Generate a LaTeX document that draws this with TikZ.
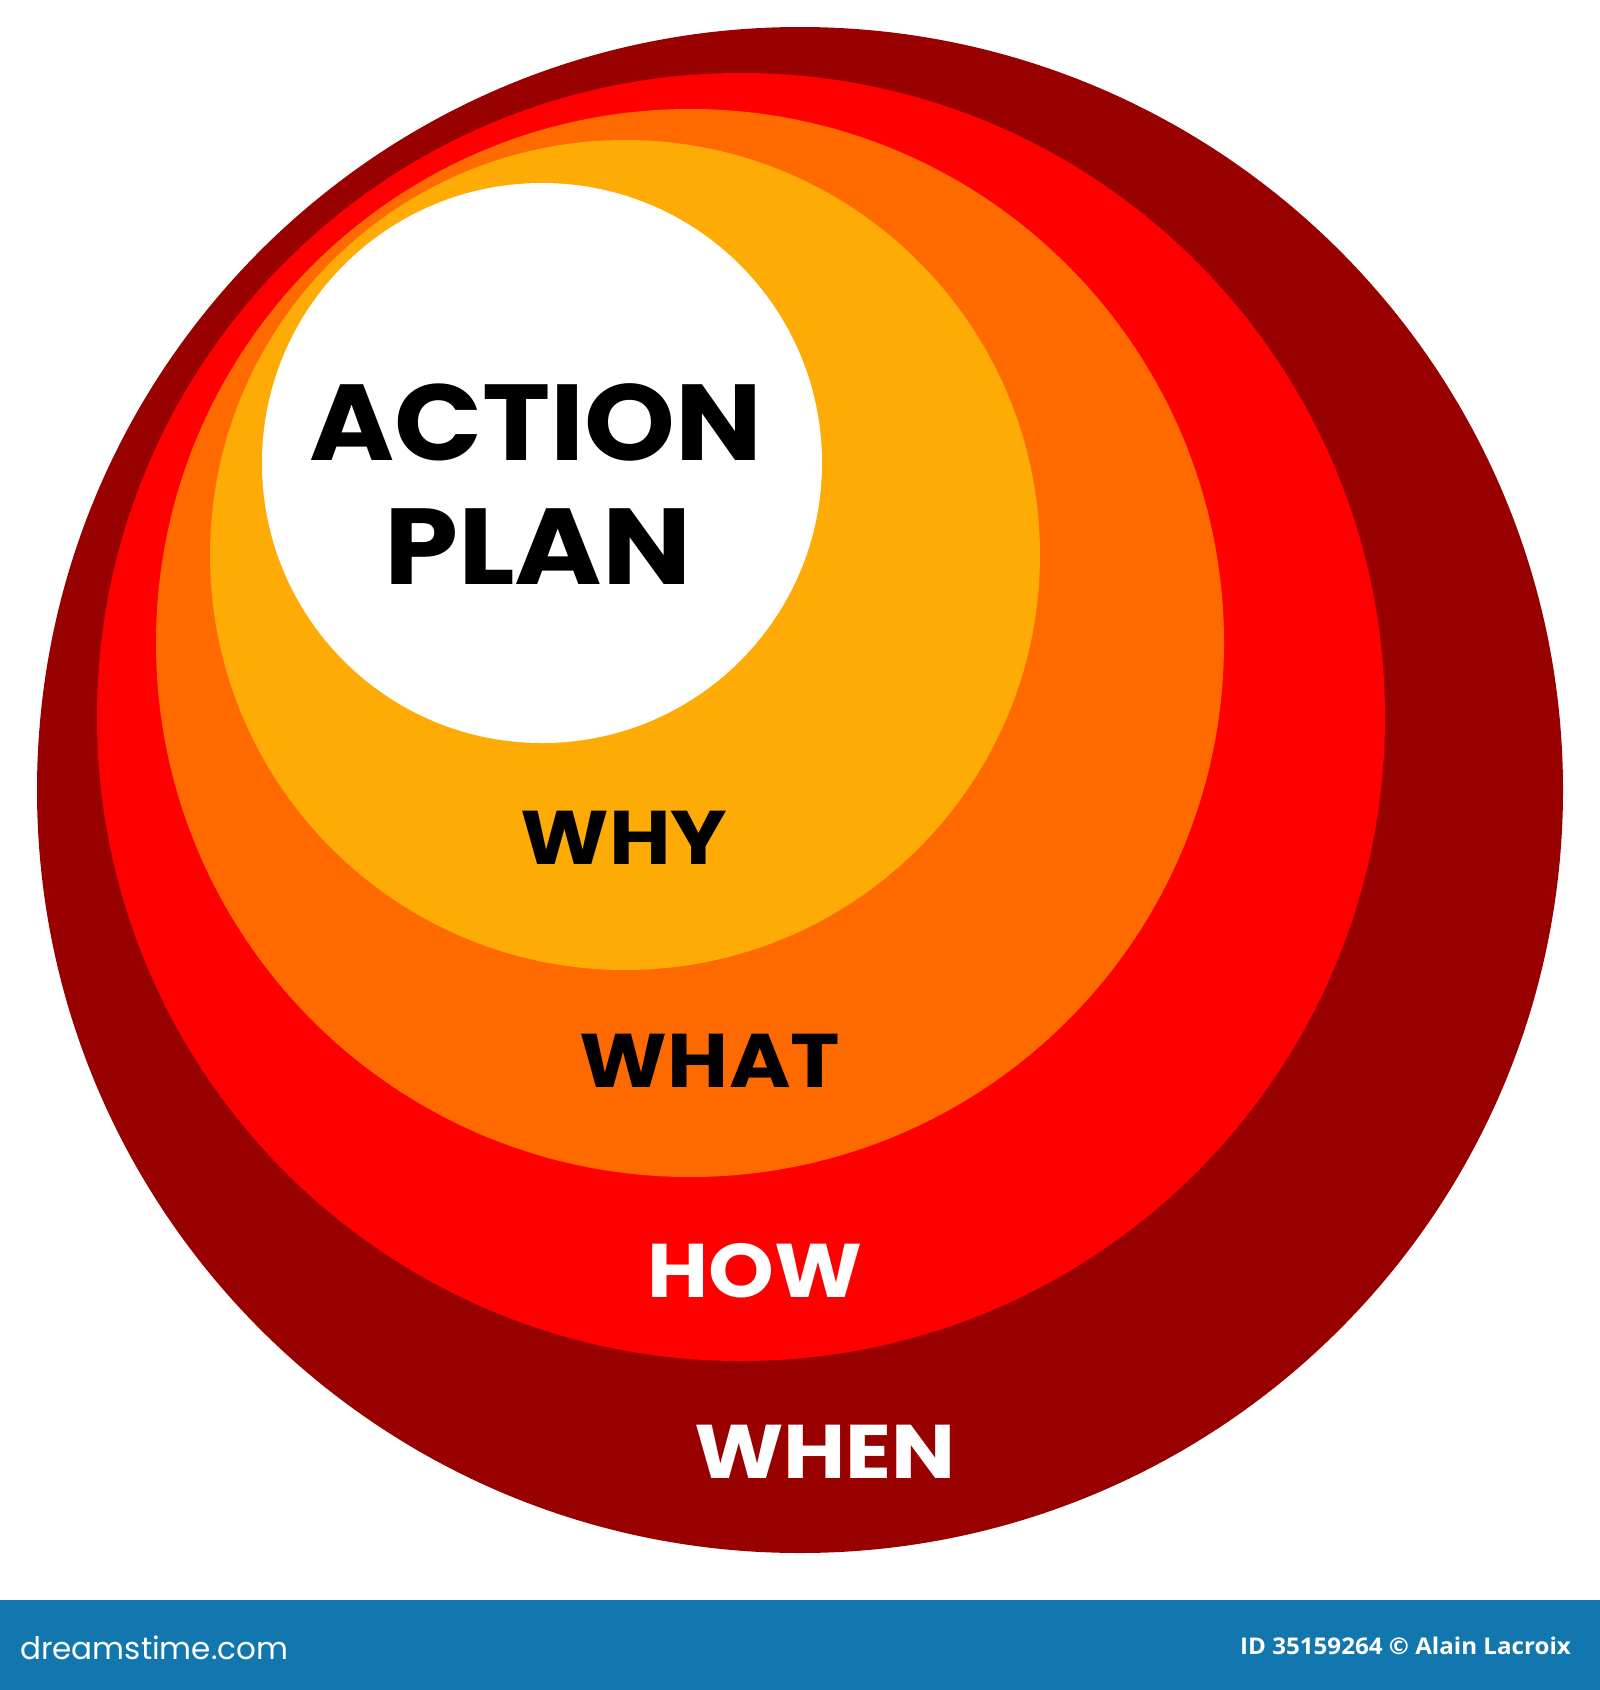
\documentclass[tikz,border=0pt]{standalone}
\usepackage{fontspec}
\setmainfont{Poppins}[BoldFont={* Bold}]
\newfontfamily\bandfont{Open Sans}
\definecolor{ringdark}{HTML}{990000}
\definecolor{ringred}{HTML}{FF0000}
\definecolor{ringorange}{HTML}{FF6A00}
\definecolor{ringamber}{HTML}{FEAC05}
\definecolor{bandblue}{HTML}{1177AE}
\newcommand{\widetext}[2]{\scalebox{#1}[1]{#2}}
\begin{document}
\begin{tikzpicture}[x=1pt,y=-1pt,
  ring/.style={circle,minimum size=#1,inner sep=0pt,draw=none},
  lbl/.style={font=\bfseries\fontsize{#1}{#1}\selectfont,inner sep=0pt,anchor=center}]
\useasboundingbox (0,0) rectangle (1600,1690);
\fill[white] (0,0) rectangle (1600,1690);
\node[ring=1526pt,fill=ringdark] (c1) at (800,790) {};
\node[ring=1288pt,fill=ringred] (c2) at (741,717) {};
\node[ring=1068pt,fill=ringorange] (c3) at (690,643) {};
\node[ring=830pt,fill=ringamber] (c4) at (625,555) {};
\node[ring=560pt,fill=white] (c5) at (542,463) {};
\node[lbl=108,text=black] (action) at (536,422) {\widetext{1.07}{ACTION}};
\node[lbl=108,text=black] (plan) at (538,547) {\widetext{1.1}{PLAN}};
\node[lbl=76,text=black] (why) at (624,838) {\widetext{1.11}{WHY}};
\node[lbl=76,text=black] (what) at (710,1061) {\widetext{1.1}{WHAT}};
\node[lbl=76,text=white] (how) at (755,1271) {\widetext{1.1}{HOW}};
\node[lbl=76,text=white] (when) at (825,1452) {\widetext{1.12}{WHEN}};
\fill[bandblue] (0,1600) rectangle (1600,1690);
\node[font=\fontsize{31}{31}\selectfont,text=white,anchor=west,inner sep=0pt] (site) at (20,1648) {dreamstime.com};
\node[font=\bandfont\bfseries\fontsize{23}{23}\selectfont,text=white,anchor=east,inner sep=0pt] (credit) at (1571,1646) {\widetext{1.05}{ID 35159264 © Alain Lacroix}};
\end{tikzpicture}
\end{document}
